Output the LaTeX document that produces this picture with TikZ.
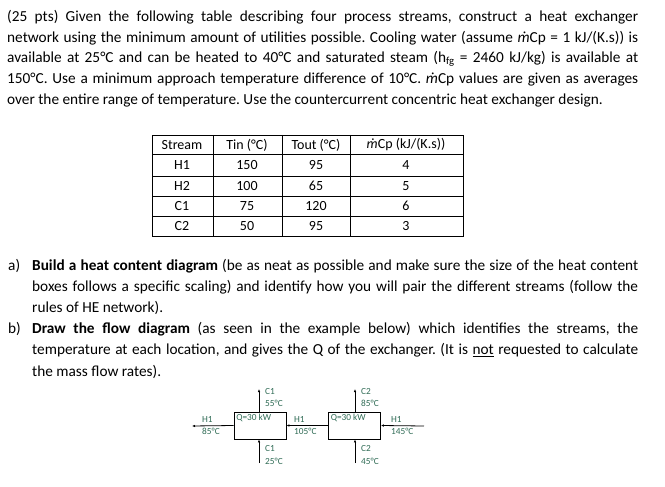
\documentclass[tikz,border=0pt]{standalone}
\usepackage{fontspec}
\setmainfont{Carlito}
\usetikzlibrary{arrows.meta}
\frenchspacing
\newcommand{\jl}[1]{\makebox[631pt][s]{#1}}
\newcommand{\mcp}{{\itshape ṁ}Cp}
\definecolor{lbl}{HTML}{2F6B55}
\begin{document}
\begin{tikzpicture}[x=1pt,y=-1pt,
  line/.style={anchor=west,inner sep=0pt,font=\fontsize{15.3}{16}\selectfont},
  cell/.style={inner sep=0pt,font=\fontsize{14}{15}\selectfont},
  hx/.style={draw,line width=0.8pt,minimum width=52pt,minimum height=27pt,inner sep=0pt},
  lab/.style={inner sep=0pt,text=lbl,font=\fontsize{9.3}{10}\selectfont,anchor=west},
  flow/.style={line width=0.8pt,-{Latex[length=3pt,width=2.5pt]}}]
\useasboundingbox (0,0) rectangle (665,487);
% problem text
\node[line] (p1) at (7,17) {\jl{(25 pts) Given the following table describing four process streams, construct a heat exchanger}};
\node[line] (p2) at (7,38) {\jl{network using the minimum amount of utilities possible. Cooling water (assume \mcp{} = 1 kJ/(K.s)) is}};
\node[line] (p3) at (7,59) {\jl{available at 25°C and can be heated to 40°C and saturated steam (h\textsubscript{fg} = 2460 kJ/kg) is available at}};
\node[line] (p4) at (7,80) {\jl{150°C. Use a minimum approach temperature difference of 10°C. \mcp{} values are given as averages}};
\node[line] (p5) at (7,101) {over the entire range of temperature. Use the countercurrent concentric heat exchanger design.};
% table
\draw[line width=0.6pt] (152,135) rectangle (463,236);
\foreach \y in {154,176,196,216} \draw[line width=0.6pt] (152,\y) -- (463,\y);
\foreach \x in {213,282,350} \draw[line width=0.6pt] (\x,135) -- (\x,236);
\node[cell] (h0) at (182,145) {Stream};
\node[cell] (h1) at (247,145) {Tin (°C)};
\node[cell] (h2) at (316,145) {Tout (°C)};
\node[cell] (h3) at (406,145) {\mcp{} (kJ/(K.s))};
\foreach \s/\a/\b/\c [count=\i] in {H1/150/95/4,H2/100/65/5,C1/75/120/6,C2/50/95/3}{
  \pgfmathsetmacro\yy{145+20.3*\i}
  \node[cell] (s\i) at (182,\yy) {\s};
  \node[cell] (a\i) at (247,\yy) {\a};
  \node[cell] (b\i) at (316,\yy) {\b};
  \node[cell] (c\i) at (406,\yy) {\c};
}
% parts
\node[line] (qa) at (8,266) {a)};
\node[line] (a1) at (32,266) {\makebox[606pt][s]{\textbf{Build a heat content diagram} (be as neat as possible and make sure the size of the heat content}};
\node[line] (a2) at (32,287) {\makebox[606pt][s]{boxes follows a specific scaling) and identify how you will pair the different streams (follow the}};
\node[line] (a3) at (32,308) {rules of HE network).};
\node[line] (qb) at (8,329) {b)};
\node[line] (b1) at (32,329) {\makebox[606pt][s]{\textbf{Draw the flow diagram} (as seen in the example below) which identifies the streams, the}};
\node[line] (b2) at (32,350) {\makebox[606pt][s]{temperature at each location, and gives the Q of the exchanger. (It is \underline{not} requested to calculate}};
\node[line] (b3) at (32,372) {the mass flow rates).};
% flow diagram
\node[hx] (x1) at (260,425.5) {};
\node[hx] (x2) at (354.5,425.5) {};
\node[lab,anchor=north west] at (x1.north west) [xshift=2.5pt,yshift=-2pt] {Q=30 kW};
\node[lab,anchor=north west] at (x2.north west) [xshift=2.5pt,yshift=-2pt] {Q=30 kW};
\coordinate (hin) at (424,426);
\coordinate (hout) at (192,426);
\coordinate (c1in) at (259,463);
\coordinate (c1out) at (259,389);
\coordinate (c2in) at (355,463);
\coordinate (c2out) at (355,389);
\draw[flow] (hin) -- (x2.east);
\draw[flow] (x2.west) -- (x1.east);
\draw[flow] (x1.west) -- (hout);
\draw[flow] (c1in) -- (x1.south -| c1in);
\draw[flow] (x1.north -| c1out) -- (c1out);
\draw[flow] (c2in) -- (x2.south -| c2in);
\draw[flow] (x2.north -| c2out) -- (c2out);
\node[lab] (l1) at (202,420) {H1};
\node[lab] (l2) at (202,431) {85°C};
\node[lab] (l3) at (294,420) {H1};
\node[lab] (l4) at (294,431) {105°C};
\node[lab] (l5) at (391,420) {H1};
\node[lab] (l6) at (391,431) {145°C};
\node[lab] (l7) at (265,392) {C1};
\node[lab] (l8) at (265,403) {55°C};
\node[lab] (l9) at (265,449) {C1};
\node[lab] (l10) at (265,461) {25°C};
\node[lab] (l11) at (361,392) {C2};
\node[lab] (l12) at (361,403) {85°C};
\node[lab] (l13) at (361,449) {C2};
\node[lab] (l14) at (361,461) {45°C};
\end{tikzpicture}
\end{document}
